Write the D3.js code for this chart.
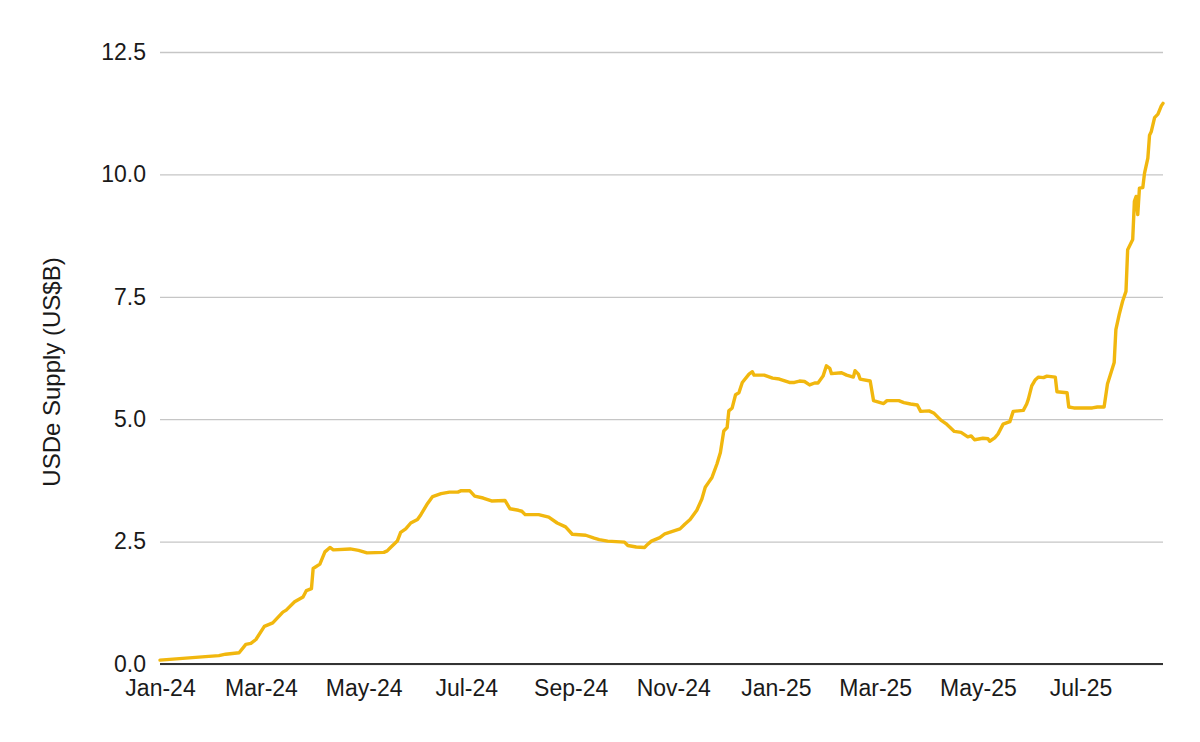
<!DOCTYPE html>
<html>
<head>
<meta charset="utf-8">
<script src="https://cdn.jsdelivr.net/npm/d3@7"></script>
<style>
  html, body { margin: 0; padding: 0; background: #ffffff; }
  svg { display: block; }
  text { font-family: "Liberation Sans", Arial, sans-serif; fill: #1a1a1a; }
</style>
</head>
<body>
<svg id="chart" width="1200" height="742"></svg>
<script>
// ---- data ----
const dates = [
"2024-01-01","2024-01-28","2024-02-05","2024-02-09","2024-02-17","2024-02-21","2024-02-24","2024-02-27",
"2024-03-03","2024-03-08","2024-03-14","2024-03-16","2024-03-21","2024-03-26","2024-03-28","2024-03-31",
"2024-04-01","2024-04-05","2024-04-08","2024-04-11","2024-04-13","2024-04-23","2024-04-28","2024-05-03",
"2024-05-13","2024-05-15","2024-05-17","2024-05-21","2024-05-23","2024-05-26","2024-05-29","2024-06-02",
"2024-06-04","2024-06-08","2024-06-11","2024-06-16","2024-06-21","2024-06-26","2024-06-28","2024-07-03",
"2024-07-06","2024-07-11","2024-07-16","2024-07-24","2024-07-27","2024-08-01","2024-08-03","2024-08-05",
"2024-08-13","2024-08-19","2024-08-24","2024-08-29","2024-09-02","2024-09-10","2024-09-15","2024-09-18",
"2024-09-23","2024-10-03","2024-10-05","2024-10-10","2024-10-15","2024-10-16","2024-10-19","2024-10-24",
"2024-10-27","2024-11-05","2024-11-08","2024-11-11","2024-11-15","2024-11-18","2024-11-20","2024-11-22",
"2024-11-24","2024-11-27","2024-11-29","2024-12-01","2024-12-03","2024-12-04","2024-12-06","2024-12-08",
"2024-12-10","2024-12-12","2024-12-16","2024-12-18","2024-12-19","2024-12-25","2024-12-30","2025-01-03",
"2025-01-09","2025-01-12","2025-01-15","2025-01-18","2025-01-21","2025-01-24","2025-01-26","2025-01-29",
"2025-01-31","2025-02-02","2025-02-03","2025-02-09","2025-02-12","2025-02-16","2025-02-17","2025-02-19",
"2025-02-20","2025-02-26","2025-02-28","2025-03-03","2025-03-06","2025-03-08","2025-03-15","2025-03-18",
"2025-03-22","2025-03-26","2025-03-28","2025-04-02","2025-04-05","2025-04-09","2025-04-12","2025-04-17",
"2025-04-21","2025-04-25","2025-04-27","2025-04-29","2025-05-04","2025-05-07","2025-05-08","2025-05-11",
"2025-05-13","2025-05-16","2025-05-20","2025-05-22","2025-05-28","2025-05-30","2025-05-31","2025-06-02",
"2025-06-04","2025-06-06","2025-06-09","2025-06-11","2025-06-16","2025-06-17","2025-06-23","2025-06-24",
"2025-06-27","2025-07-08","2025-07-11","2025-07-15","2025-07-17","2025-07-21","2025-07-22","2025-07-24",
"2025-07-26","2025-07-28","2025-07-29","2025-08-01","2025-08-02","2025-08-03","2025-08-04","2025-08-05",
"2025-08-07","2025-08-08","2025-08-10","2025-08-11","2025-08-12","2025-08-14","2025-08-16","2025-08-18",
"2025-08-19"
];
const supply = [
0.08,0.15,0.17,0.20,0.23,0.40,0.42,0.50,
0.77,0.84,1.06,1.10,1.27,1.37,1.50,1.54,
1.95,2.04,2.29,2.38,2.33,2.35,2.32,2.27,
2.28,2.31,2.38,2.51,2.69,2.76,2.88,2.95,
3.05,3.28,3.42,3.48,3.51,3.51,3.54,3.54,
3.43,3.39,3.33,3.34,3.17,3.14,3.12,3.05,
3.05,3.00,2.88,2.80,2.65,2.63,2.57,2.54,
2.51,2.49,2.42,2.39,2.38,2.42,2.51,2.58,
2.66,2.76,2.86,2.95,3.14,3.37,3.61,3.71,
3.81,4.09,4.32,4.76,4.83,5.17,5.23,5.50,
5.54,5.75,5.92,5.97,5.90,5.90,5.84,5.82,
5.75,5.75,5.78,5.77,5.70,5.74,5.74,5.88,
6.09,6.04,5.93,5.95,5.90,5.86,5.99,5.92,
5.82,5.78,5.38,5.35,5.32,5.38,5.38,5.34,
5.31,5.29,5.16,5.17,5.12,4.98,4.91,4.75,
4.73,4.64,4.66,4.58,4.61,4.60,4.55,4.62,
4.70,4.90,4.95,5.16,5.18,5.31,5.41,5.68,
5.80,5.86,5.85,5.88,5.86,5.56,5.54,5.25,
5.23,5.23,5.25,5.25,5.72,6.16,6.83,7.14,
7.41,7.61,8.46,8.67,9.45,9.55,9.18,9.72,
9.73,10.02,10.33,10.80,10.87,11.16,11.23,11.40,
11.45
];
const yTicks = [0, 2.5, 5, 7.5, 10, 12.5];
const xTickDates = ["2024-01-01","2024-03-01","2024-05-01","2024-07-01","2024-09-01","2024-11-01",
                    "2025-01-01","2025-03-01","2025-05-01","2025-07-01"];
const xTickLabels = ["Jan-24","Mar-24","May-24","Jul-24","Sep-24","Nov-24","Jan-25","Mar-25","May-25","Jul-25"];
const domainStart = "2024-01-01";
const domainEnd = "2025-08-19";
const yTitle = "USDe Supply (US$B)";

// ---- layout ----
const W = 1200, H = 742;
const margin = { left: 160, right: 37, top: 52, bottom: 78 };
const parse = d3.utcParse("%Y-%m-%d");
const data = dates.map((d, i) => ({ date: parse(d), value: supply[i] }));

const svg = d3.select("#chart");
const x = d3.scaleUtc()
  .domain([parse(domainStart), parse(domainEnd)])
  .range([margin.left, W - margin.right]);
const y = d3.scaleLinear()
  .domain([0, 12.5])
  .range([H - margin.bottom, margin.top]);

// gridlines + y labels
const yAxis = d3.axisLeft(y)
  .tickValues(yTicks)
  .tickFormat(d3.format(".1f"))
  .tickSize(-(W - margin.left - margin.right))
  .tickPadding(14);
const gy = svg.append("g")
  .attr("transform", `translate(${margin.left},0)`)
  .call(yAxis);
gy.select(".domain").remove();
gy.selectAll(".tick line").attr("stroke", "#c6c6c6").attr("stroke-width", 1.3);
gy.selectAll(".tick text")
  .attr("font-size", 23)
  .attr("fill", "#1a1a1a")
  .style("font-family", "'Liberation Sans', Arial, sans-serif");

// x axis labels
const xAxis = d3.axisBottom(x)
  .tickValues(xTickDates.map(parse))
  .tickFormat((d, i) => xTickLabels[i])
  .tickSize(0)
  .tickPadding(16);
const gx = svg.append("g")
  .attr("transform", `translate(0,${H - margin.bottom})`)
  .call(xAxis);
gx.select(".domain").remove();
gx.selectAll(".tick text")
  .attr("font-size", 23)
  .attr("fill", "#1a1a1a")
  .style("font-family", "'Liberation Sans', Arial, sans-serif");

// baseline
svg.append("line")
  .attr("x1", margin.left).attr("x2", W - margin.right)
  .attr("y1", y(0)).attr("y2", y(0))
  .attr("stroke", "#333333").attr("stroke-width", 2);

// line
const line = d3.line()
  .x(d => x(d.date))
  .y(d => y(d.value));
svg.append("path")
  .datum(data)
  .attr("fill", "none")
  .attr("stroke", "#f1b70e")
  .attr("stroke-width", 3.4)
  .attr("stroke-linejoin", "round")
  .attr("stroke-linecap", "round")
  .attr("d", line);

// y title
svg.append("text")
  .attr("transform", `translate(60,${(margin.top + H - margin.bottom) / 2 + 14}) rotate(-90)`)
  .attr("text-anchor", "middle")
  .attr("font-size", 24)
  .attr("fill", "#1a1a1a")
  .text(yTitle);
</script>
</body>
</html>
